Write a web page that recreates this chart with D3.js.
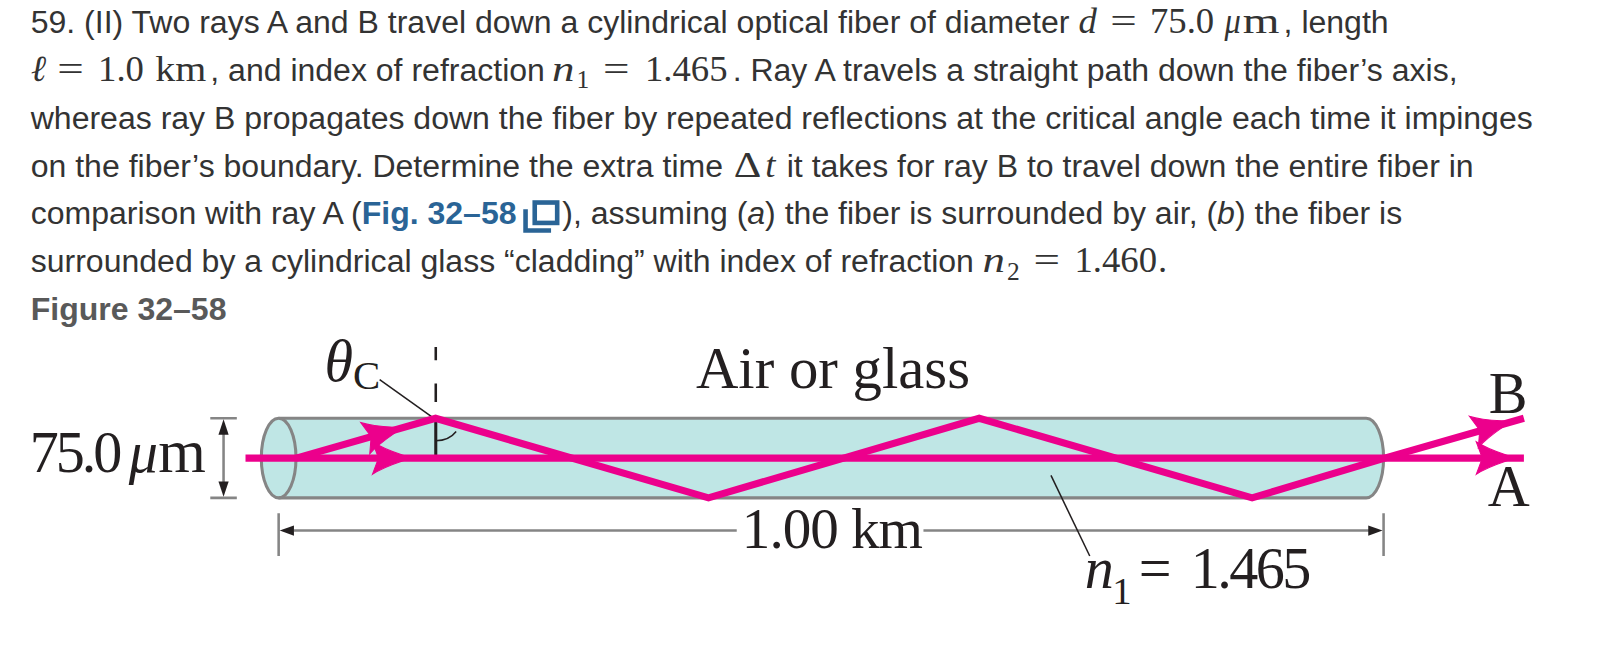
<!DOCTYPE html>
<html><head><meta charset="utf-8">
<style>html,body{margin:0;padding:0;background:#fff;overflow:hidden}svg{display:block}</style>
<script src="https://cdn.jsdelivr.net/npm/d3@7/dist/d3.min.js"></script>
</head><body><svg id="c" width="1600" height="655" viewBox="0 0 1568 642"></svg>
<script>
// Fibre geometry and rays, in km along the fibre and µm across it
const fiberLengthKm = [0, 1];
const fiberDiameterUm = [-37.5, 37.5];
const rayAKm = [-0.03, 1.127];
const rayAUm = [0, 0];
const rayBKm = [0.016, 0.142, 0.389, 0.634, 0.881, 1.001, 1.127];
const rayBUm = [0, 37.5, -37.5, 37.5, -37.5, 0, 37.5];
const arrowKm = [0.107, 0.0997, 1.106, 1.103];
const arrowUm = [0, 25, 0, 31];
const arrowTilt = [0, -15.9, 0, -15.9];
const problemLines = [
 "59. (II) Two rays A and B travel down a cylindrical optical fiber of diameter",
 ", and index of refraction",
 "whereas ray B propagates down the fiber by repeated reflections at the critical angle each time it impinges",
 "on the fiber\u2019s boundary. Determine the extra time",
 "comparison with ray A (",
 "surrounded by a cylindrical glass \u201ccladding\u201d with index of refraction"
];
const figureTitle = "Figure 32\u201358";
const figureLink = "Fig. 32\u201358";

const svg = d3.select("#c");
const sans = "Liberation Sans", serif = "Liberation Serif";
const ink = "#333", dark = "#231f20", pink = "#ec008c", grey = "#858585", teal = "#bfe6e5", blue = "#2a6496";

const x = d3.scaleLinear().domain(fiberLengthKm).range([273, 1356]);
const y = d3.scaleLinear().domain(fiberDiameterUm).range([488, 410]);

function t(px, py, s, o = {}) {
  const e = svg.append("text").attr("x", px).attr("y", py).text(s)
    .attr("font-family", o.f || sans).attr("font-size", o.s || 31.4)
    .attr("font-style", o.i ? "italic" : "normal").attr("font-weight", o.b ? 700 : 400)
    .attr("fill", o.c || ink).attr("letter-spacing", o.ls || 0);
  if (o.w) e.attr("textLength", o.w).attr("lengthAdjust", "spacingAndGlyphs");
  return e;
}
const m = { f: serif, s: 36 }, mi = { f: serif, s: 36, i: 1 };
const eq = { ...m, w: 26 }, en = { ...mi, w: 22 }, sub = { f: serif, s: 25 };

// Paragraph
const base = [32, 79, 126, 173, 220, 267];
t(30, base[0], problemLines[0]);
t(1057, base[0], "d", mi); t(1088, base[0], "=", eq); t(1127, base[0], "75.0", m);
t(1200, base[0], "\u03bc", { ...mi, w: 16 }); t(1218, base[0], "m", { ...m, w: 36 }); t(1258, base[0], ", length");
t(30, base[1], "\u2113", mi); t(56, base[1], "=", eq); t(96, base[1], "1.0", m); t(152, base[1], "km", { ...m, w: 50 });
t(206, base[1], problemLines[1]);
t(541, base[1], "n", en); t(565, base[1] + 7, "1", sub); t(591, base[1], "=", eq); t(632, base[1], "1.465", m);
t(718, base[1], ". Ray A travels a straight path down the fiber\u2019s axis,");
t(30, base[2], problemLines[2]);
t(30, base[3], problemLines[3]);
t(719, base[3], "\u0394", { ...m, w: 27 }); t(750, base[3], "t", mi);
t(771, base[3], "it takes for ray B to travel down the entire fiber in");
const l5 = t(30, base[4], problemLines[4]);
l5.append("tspan").text(figureLink).attr("font-weight", 700).attr("fill", blue);
const l5b = t(551, base[4], "), assuming (");
l5b.append("tspan").text("a").attr("font-style", "italic");
l5b.append("tspan").text(") the fiber is surrounded by air, (");
l5b.append("tspan").text("b").attr("font-style", "italic");
l5b.append("tspan").text(") the fiber is");
t(30, base[5], problemLines[5]);
t(963, base[5], "n", en); t(987, base[5] + 7, "2", sub); t(1013, base[5], "=", eq); t(1053, base[5], "1.460", m); t(1135, base[5], ".", m);
t(30, 314, figureTitle, { b: 1, c: "#595959" });

// Link icon
svg.append("rect").attr("x", 524).attr("y", 198.5).attr("width", 22).attr("height", 20)
  .attr("fill", "none").attr("stroke", blue).attr("stroke-width", 4.5);
svg.append("path").attr("d", "M515 205V226H540").attr("fill", "none").attr("stroke", blue).attr("stroke-width", 4.5);

// Fibre
const x0 = x(0), x1 = x(1), yt = y(37.5), yb = y(-37.5), ry = (yb - yt) / 2;
svg.append("path").attr("d", `M${x0} ${yt}H${x1 - 17}A17 ${ry} 0 0 1 ${x1 - 17} ${yb}H${x0}A17 ${ry} 0 0 1 ${x0} ${yt}Z`)
  .attr("fill", teal).attr("stroke", grey).attr("stroke-width", 3);
svg.append("path").attr("d", `M${x0} ${yt}A17 ${ry} 0 0 1 ${x0} ${yb}`)
  .attr("fill", "none").attr("stroke", grey).attr("stroke-width", 3);

// Normal and angle marks (behind rays)
svg.append("path").attr("d", "M427 340V353M427 376V394").attr("stroke", dark).attr("stroke-width", 2.5).attr("fill", "none");
svg.append("path").attr("d", "M427 410V449").attr("stroke", dark).attr("stroke-width", 3).attr("fill", "none");
svg.append("path").attr("d", "M427 432Q440 432 447 423").attr("stroke", dark).attr("stroke-width", 1.5).attr("fill", "none");
svg.append("path").attr("d", "M372 372L428 412").attr("stroke", dark).attr("stroke-width", 1.5).attr("fill", "none");

// Rays
const line = d3.line().x(d => x(d[0])).y(d => y(d[1]));
svg.append("path").attr("d", line(d3.zip(rayBKm, rayBUm))).attr("fill", "none").attr("stroke", pink).attr("stroke-width", 7).attr("stroke-linejoin", "miter");
svg.append("path").attr("d", line(d3.zip(rayAKm, rayAUm))).attr("fill", "none").attr("stroke", pink).attr("stroke-width", 7);
arrowKm.forEach((k, i) => {
  svg.append("path").attr("d", "M-24 -16L-18 0L-24 16C-12 8 0 5 14 0C0 -5 -12 -8 -24 -16Z")
    .attr("fill", pink).attr("stroke", pink).attr("stroke-width", 1).attr("transform", `translate(${x(k)},${y(arrowUm[i])}) rotate(${arrowTilt[i]})`);
});

// Dimension: diameter
const dim = (d) => svg.append("path").attr("d", d).attr("fill", "none").attr("stroke", grey).attr("stroke-width", 2.5);
dim(`M206 ${yt}H232M206 ${yb}H232M219 ${yt + 8}V${yb - 8}`);
const tri = (d) => svg.append("path").attr("d", d).attr("fill", dark);
tri(`M219 ${yt + 1}L214 ${yt + 16}H224Z`);
tri(`M219 ${yb - 1}L214 ${yb - 16}H224Z`);
t(29, 463, "75.0", { f: serif, s: 57, c: dark, ls: -3 });
t(126, 463, "\u03bc", { f: serif, s: 57, i: 1, c: dark });
t(155, 463, "m", { f: serif, s: 60, c: dark });

// Dimension: length
const dy = 520;
dim(`M${x0} 503V545M${x1} 503V545M288 ${dy}H722M905 ${dy}H${x1 - 10}`);
tri(`M${x0 + 1} ${dy}L${x0 + 15} ${dy - 5}V${dy + 5}Z`);
tri(`M${x1 - 1} ${dy}L${x1 - 15} ${dy - 5}V${dy + 5}Z`);
t(727, 537, "1.00 km", { f: serif, s: 56, c: dark, ls: -1 });

// Labels
t(318, 373, "\u03b8", { f: serif, s: 57, i: 1, c: dark });
t(346, 381, "C", { f: serif, s: 40, c: dark });
t(682, 380, "Air or glass", { f: serif, s: 57.6, c: dark });
t(1459, 405, "B", { f: serif, s: 57, c: dark });
t(1458, 496, "A", { f: serif, s: 57, c: dark });
svg.append("path").attr("d", "M1030 466L1068 545").attr("stroke", dark).attr("stroke-width", 1.5).attr("fill", "none");
t(1063, 576, "n", { f: serif, s: 57, i: 1, c: dark });
t(1090, 592, "1", { f: serif, s: 38, c: dark });
t(1116, 576, "=", { f: serif, s: 57, c: dark });
t(1167, 576, "1.465", { f: serif, s: 57, c: dark, ls: -2.5 });
</script></body></html>
